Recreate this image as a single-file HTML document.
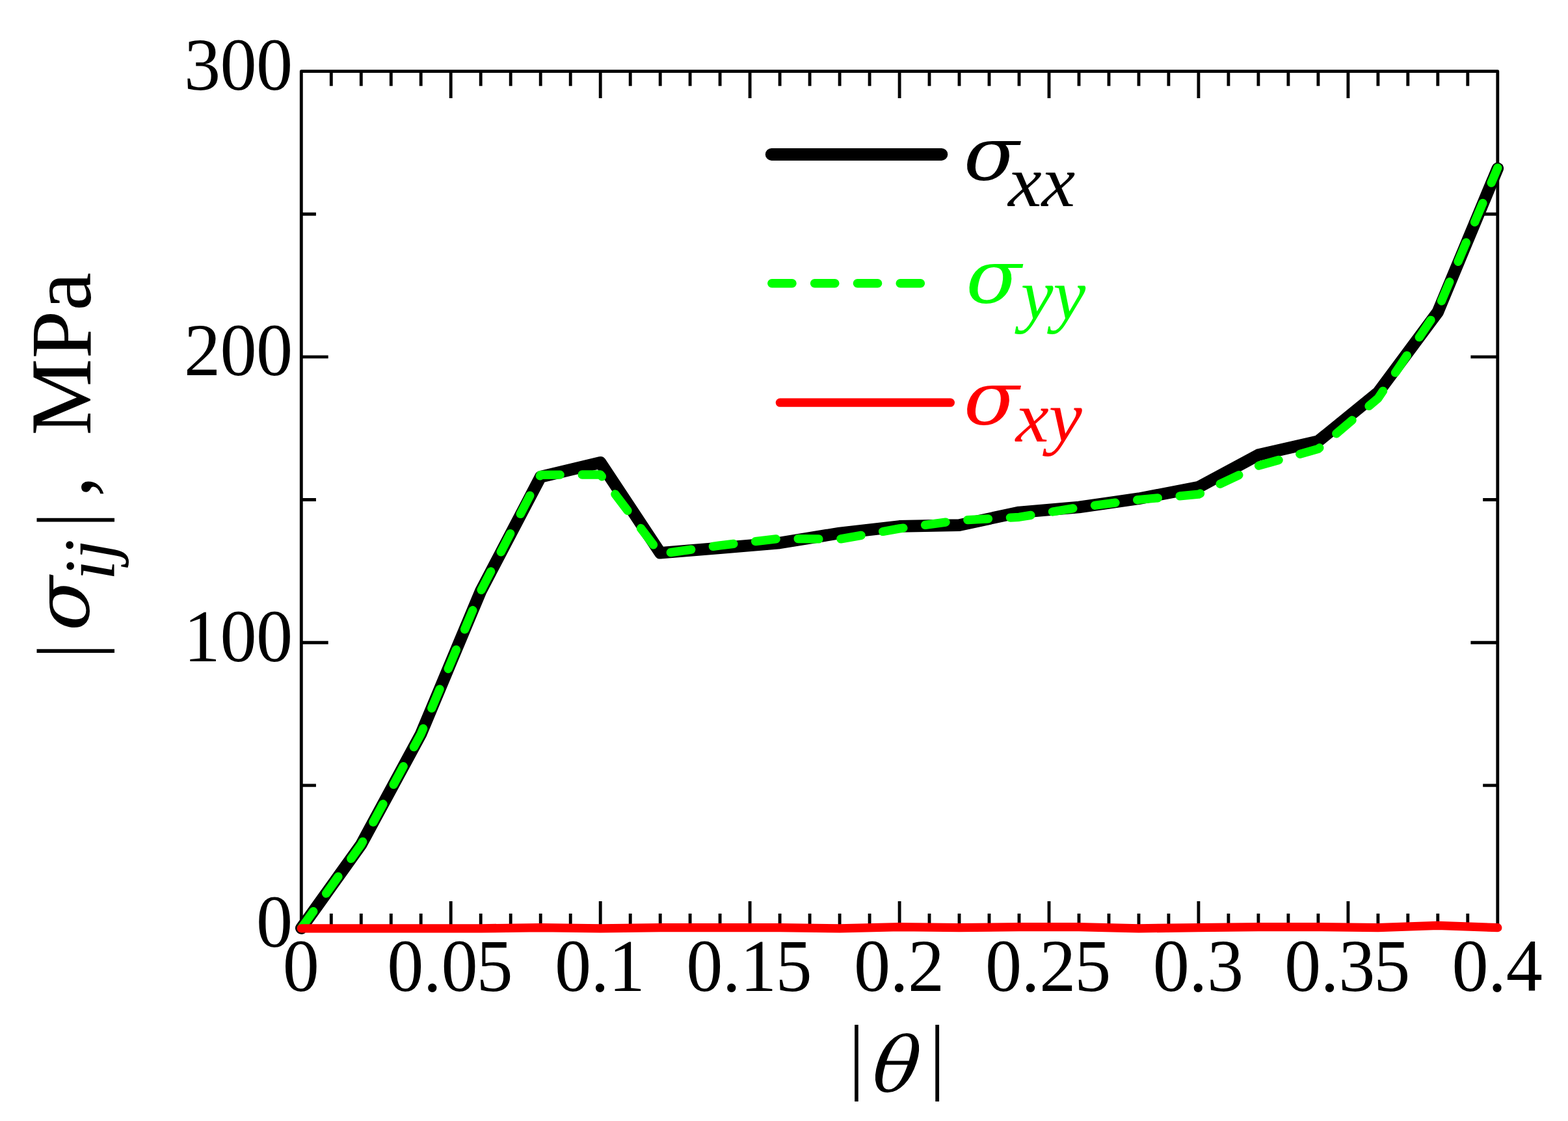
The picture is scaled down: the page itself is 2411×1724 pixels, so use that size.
<!DOCTYPE html>
<html lang="en"><head><meta charset="utf-8"><title>Stress components versus rotation angle</title>
<style>
html,body{margin:0;padding:0;background:#fff;}
body{width:2411px;height:1724px;overflow:hidden;}
svg{display:block;}
text{font-family:"Liberation Serif","DejaVu Serif",serif;}
</style></head><body>
<svg width="2411" height="1724" viewBox="0 0 2411 1724" role="img" aria-label="Stress components versus rotation angle">
<rect x="0" y="0" width="2411" height="1724" fill="#fff"/>
<!-- axes frame and tick marks -->
<g stroke="#000" stroke-width="4.85" fill="none" stroke-linecap="butt" stroke-linejoin="round">
<rect x="463.3" y="109.6" width="1839.5" height="1317.9"/>
<path d="M509.3 1427.5v-22.6 M509.3 109.6v22.6"/>
<path d="M555.3 1427.5v-22.6 M555.3 109.6v22.6"/>
<path d="M601.3 1427.5v-22.6 M601.3 109.6v22.6"/>
<path d="M647.2 1427.5v-22.6 M647.2 109.6v22.6"/>
<path d="M693.2 1427.5v-41.4 M693.2 109.6v41.4"/>
<path d="M739.2 1427.5v-22.6 M739.2 109.6v22.6"/>
<path d="M785.2 1427.5v-22.6 M785.2 109.6v22.6"/>
<path d="M831.2 1427.5v-22.6 M831.2 109.6v22.6"/>
<path d="M877.2 1427.5v-22.6 M877.2 109.6v22.6"/>
<path d="M923.2 1427.5v-41.4 M923.2 109.6v41.4"/>
<path d="M969.2 1427.5v-22.6 M969.2 109.6v22.6"/>
<path d="M1015.2 1427.5v-22.6 M1015.2 109.6v22.6"/>
<path d="M1061.1 1427.5v-22.6 M1061.1 109.6v22.6"/>
<path d="M1107.1 1427.5v-22.6 M1107.1 109.6v22.6"/>
<path d="M1153.1 1427.5v-41.4 M1153.1 109.6v41.4"/>
<path d="M1199.1 1427.5v-22.6 M1199.1 109.6v22.6"/>
<path d="M1245.1 1427.5v-22.6 M1245.1 109.6v22.6"/>
<path d="M1291.1 1427.5v-22.6 M1291.1 109.6v22.6"/>
<path d="M1337.1 1427.5v-22.6 M1337.1 109.6v22.6"/>
<path d="M1383.1 1427.5v-41.4 M1383.1 109.6v41.4"/>
<path d="M1429.0 1427.5v-22.6 M1429.0 109.6v22.6"/>
<path d="M1475.0 1427.5v-22.6 M1475.0 109.6v22.6"/>
<path d="M1521.0 1427.5v-22.6 M1521.0 109.6v22.6"/>
<path d="M1567.0 1427.5v-22.6 M1567.0 109.6v22.6"/>
<path d="M1613.0 1427.5v-41.4 M1613.0 109.6v41.4"/>
<path d="M1659.0 1427.5v-22.6 M1659.0 109.6v22.6"/>
<path d="M1705.0 1427.5v-22.6 M1705.0 109.6v22.6"/>
<path d="M1751.0 1427.5v-22.6 M1751.0 109.6v22.6"/>
<path d="M1796.9 1427.5v-22.6 M1796.9 109.6v22.6"/>
<path d="M1842.9 1427.5v-41.4 M1842.9 109.6v41.4"/>
<path d="M1888.9 1427.5v-22.6 M1888.9 109.6v22.6"/>
<path d="M1934.9 1427.5v-22.6 M1934.9 109.6v22.6"/>
<path d="M1980.9 1427.5v-22.6 M1980.9 109.6v22.6"/>
<path d="M2026.9 1427.5v-22.6 M2026.9 109.6v22.6"/>
<path d="M2072.9 1427.5v-41.4 M2072.9 109.6v41.4"/>
<path d="M2118.9 1427.5v-22.6 M2118.9 109.6v22.6"/>
<path d="M2164.8 1427.5v-22.6 M2164.8 109.6v22.6"/>
<path d="M2210.8 1427.5v-22.6 M2210.8 109.6v22.6"/>
<path d="M2256.8 1427.5v-22.6 M2256.8 109.6v22.6"/>
<path d="M463.3 1207.8h22.6 M2302.8 1207.8h-22.6"/>
<path d="M463.3 988.2h41.4 M2302.8 988.2h-41.4"/>
<path d="M463.3 768.5h22.6 M2302.8 768.5h-22.6"/>
<path d="M463.3 548.9h41.4 M2302.8 548.9h-41.4"/>
<path d="M463.3 329.2h22.6 M2302.8 329.2h-22.6"/>
</g>
<!-- data curves -->
<polyline points="463.3,1427.5 555.3,1298.8 647.2,1128.8 739.2,909.1 831.2,733.4 923.2,711.4 1015.2,850.3 1107.1,842.8 1199.1,834.9 1291.1,819.9 1383.1,809.4 1475.0,807.6 1567.0,787.9 1659.0,780.0 1751.0,766.8 1842.9,749.2 1934.9,699.6 2026.9,678.5 2118.9,603.8 2210.8,479.9 2302.8,259.0" fill="none" stroke="#000" stroke-width="18.6" stroke-linejoin="round" stroke-linecap="round"/>
<polyline points="463.3,1427.5 555.3,1298.8 647.2,1128.8 739.2,909.1 831.2,730.3 923.2,729.9 1015.2,852.0 1107.1,838.8 1199.1,828.3 1291.1,829.2 1383.1,812.9 1475.0,800.2 1567.0,795.3 1659.0,780.4 1751.0,768.5 1842.9,760.2 1934.9,716.3 2026.9,690.4 2118.9,612.6 2210.8,476.4 2302.8,258.1" fill="none" stroke="#00ff00" stroke-width="13.3" stroke-linejoin="round" stroke-linecap="round" stroke-dasharray="31.8 33.94"/>
<polyline points="463.3,1427.8 555.3,1427.8 647.2,1427.8 739.2,1427.8 831.2,1426.7 923.2,1427.8 1015.2,1426.7 1107.1,1426.7 1199.1,1426.7 1291.1,1427.8 1383.1,1425.6 1475.0,1426.7 1567.0,1425.6 1659.0,1425.6 1751.0,1427.8 1842.9,1426.7 1934.9,1425.6 2026.9,1425.6 2118.9,1426.7 2210.8,1423.4 2302.8,1426.7" fill="none" stroke="#ff0000" stroke-width="13.3" stroke-linejoin="round" stroke-linecap="round"/>
<!-- legend -->
<path d="M1186.3 237.4H1447.8" stroke="#000" stroke-width="19" stroke-linecap="round" fill="none"/>
<path d="M1186.8 435.7H1420" stroke="#00ff00" stroke-width="13.5" stroke-linecap="round" stroke-dasharray="31.2 34.6" fill="none"/>
<path d="M1199.4 619.2H1461.3" stroke="#ff0000" stroke-width="13.3" stroke-linecap="round" fill="none"/>
<text transform="translate(1481.48 276.19) scale(1.1010 1)" style='font-family:"DejaVu Serif","Liberation Serif",serif;font-style:italic' font-size="114.03" fill="#000">σ</text>
<text transform="translate(1550.32 317.40) scale(1.0275 1)" style='font-family:"Liberation Serif",serif;font-style:italic' font-size="112.86" fill="#000">xx</text>
<text transform="translate(1484.99 464.59) scale(1.0996 1)" style='font-family:"DejaVu Serif","Liberation Serif",serif;font-style:italic' font-size="114.03" fill="#00ff00">σ</text>
<text transform="translate(1569.85 491.07) scale(1.0183 1)" style='font-family:"Liberation Serif",serif;font-style:italic' font-size="109.96" fill="#00ff00">yy</text>
<text transform="translate(1481.48 652.49) scale(1.1064 1)" style='font-family:"DejaVu Serif","Liberation Serif",serif;font-style:italic' font-size="113.47" fill="#ff0000">σ</text>
<text transform="translate(1561.70 679.17) scale(1.0454 1)" style='font-family:"Liberation Serif",serif;font-style:italic' font-size="109.96" fill="#ff0000">xy</text>
<!-- tick labels -->
<text transform="translate(394.10 1455.80) scale(0.9850 1)" x="0.00" y="0" font-size="114.0">0</text>
<text transform="translate(283.10 1016.50) scale(0.9850 1)" x="-0.51 56.35 112.69" y="0" font-size="114.0">100</text>
<text transform="translate(283.10 577.20) scale(0.9850 1)" x="0.00 56.35 112.69" y="0" font-size="114.0">200</text>
<text transform="translate(283.10 137.90) scale(0.9850 1)" x="0.00 56.35 112.69" y="0" font-size="114.0">300</text>
<text transform="translate(434.75 1523.90) scale(0.9850 1)" x="0.00" y="0" font-size="114.0">0</text>
<text transform="translate(595.31 1523.90) scale(0.9850 1)" x="0.00 56.35 84.52 139.34" y="0" font-size="114.0">0.05</text>
<text transform="translate(853.00 1523.90) scale(0.9850 1)" x="0.00 56.35 84.01" y="0" font-size="114.0">0.1</text>
<text transform="translate(1055.19 1523.90) scale(0.9850 1)" x="0.00 56.35 84.01 139.34" y="0" font-size="114.0">0.15</text>
<text transform="translate(1312.88 1523.90) scale(0.9850 1)" x="0.00 56.35 84.52" y="0" font-size="114.0">0.2</text>
<text transform="translate(1515.06 1523.90) scale(0.9850 1)" x="0.00 56.35 84.52 139.34" y="0" font-size="114.0">0.25</text>
<text transform="translate(1772.75 1523.90) scale(0.9850 1)" x="0.00 56.35 84.52" y="0" font-size="114.0">0.3</text>
<text transform="translate(1974.94 1523.90) scale(0.9850 1)" x="0.00 56.35 84.52 139.34" y="0" font-size="114.0">0.35</text>
<text transform="translate(2232.62 1523.90) scale(0.9850 1)" x="0.00 56.35 84.52" y="0" font-size="114.0">0.4</text>
<!-- axis titles -->
<text transform="translate(1305.49 1665.51) scale(0.8793 1)" style='font-family:"Liberation Serif",serif;' font-size="130.16" fill="#000">|</text>
<text transform="translate(1338.50 1679.14) skewX(-7.00) scale(1.0101 1)" style='font-family:"DejaVu Serif","Liberation Serif",serif;font-style:italic' font-size="116.99" fill="#000">θ</text>
<text transform="translate(1429.54 1665.51) scale(0.8947 1)" style='font-family:"Liberation Serif",serif;' font-size="130.16" fill="#000">|</text>
<text transform="translate(147.52 1012.41) rotate(-90) scale(0.8734 1)" style='font-family:"Liberation Serif",serif;' font-size="131.04" fill="#000">|</text>
<text transform="translate(135.76 970.43) rotate(-90) scale(1.0679 1)" style='font-family:"DejaVu Serif","Liberation Serif",serif;font-style:italic' font-size="115.72" fill="#000">σ</text>
<text transform="translate(175.24 892.50) rotate(-90) scale(1.0354 1)" style='font-family:"Liberation Serif",serif;font-style:italic' font-size="109.26" fill="#000">ij</text>
<text transform="translate(147.52 811.41) rotate(-90) scale(0.9040 1)" style='font-family:"Liberation Serif",serif;' font-size="131.04" fill="#000">|</text>
<text transform="translate(139.40 763.88) rotate(-90) scale(0.9375 1)" style='font-family:"Liberation Serif",serif;' font-size="133.94" fill="#000">,</text>
<text transform="translate(139.39 669.42) rotate(-90) scale(0.9902 1)" style='font-family:"Liberation Serif",serif;' font-size="133.93" fill="#000">MPa</text>
</svg>
</body></html>
